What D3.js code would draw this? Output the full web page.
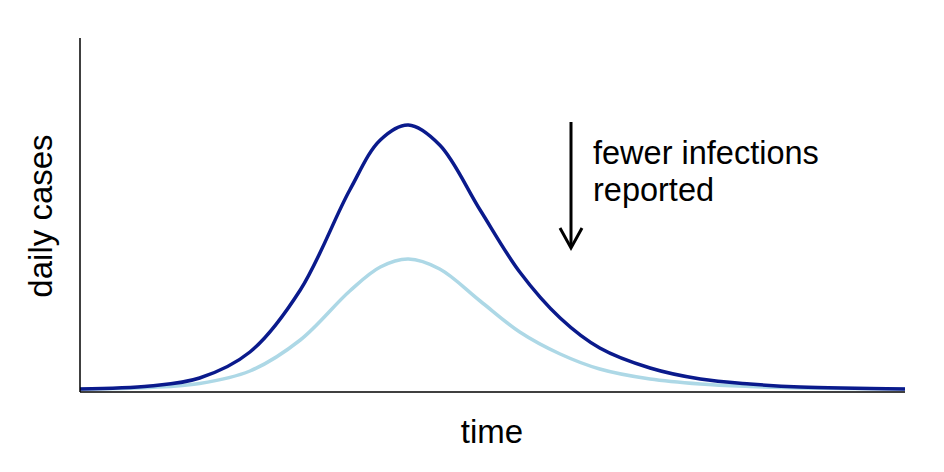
<!DOCTYPE html>
<html><head><meta charset="utf-8">
<script src="https://cdn.jsdelivr.net/npm/d3@7"></script>
<style>body{margin:0;background:#fff}text{font-family:"Liberation Sans",Arial,sans-serif}</style>
</head><body>
<svg id="c" width="944" height="472"></svg>
<script>
var time = [0, 8.5, 14.5, 20.6, 26.7, 32.7, 36.4, 39.8, 43.6, 48.5, 53.3, 58.2, 63, 69.1, 75.2, 81.2, 87.3, 100];
var reported = [0, 3, 11, 37, 99, 199, 249, 264, 244, 179, 117, 71, 41, 21, 10, 5, 2, 0];
var reduced = [0, 1.5, 5.5, 18, 49, 98, 122, 130, 120, 88, 57, 35, 20, 10, 5, 2.5, 1, 0];

var svg = d3.select('#c');
var x = d3.scaleLinear().domain([0, 100]).range([80, 905]);
var y = d3.scaleLinear().domain([0, 354]).range([389, 35]);

function draw(vals, color) {
  svg.append('path')
    .datum(vals)
    .attr('fill', 'none')
    .attr('stroke', color)
    .attr('stroke-width', 3.5)
    .attr('d', d3.line().curve(d3.curveCatmullRom)
      .x(function(d, i) { return x(time[i]); })
      .y(function(d) { return y(d); }));
}
draw(reduced, '#add8e6');
draw(reported, '#0a1a8c');

// axes
svg.append('line').attr('x1', 80).attr('x2', 80).attr('y1', 38).attr('y2', 392).attr('stroke', '#000').attr('stroke-width', 1.5);
svg.append('line').attr('x1', 80).attr('x2', 905).attr('y1', 392).attr('y2', 392).attr('stroke', '#000').attr('stroke-width', 1.5);

svg.append('text').attr('x', 492).attr('y', 443).attr('text-anchor', 'middle').attr('font-size', 33).text('time');
svg.append('text').attr('transform', 'translate(52,216) rotate(-90)').attr('text-anchor', 'middle').attr('font-size', 33).text('daily cases');

// arrow
svg.append('line').attr('x1', 571).attr('x2', 571).attr('y1', 122).attr('y2', 246).attr('stroke', '#000').attr('stroke-width', 3);
svg.append('path').attr('d', 'M560,228 L571,248 L582,228').attr('fill', 'none').attr('stroke', '#000').attr('stroke-width', 3);
svg.append('text').attr('x', 593).attr('y', 164).attr('font-size', 32.5).text('fewer infections');
svg.append('text').attr('x', 593).attr('y', 201).attr('font-size', 32.5).text('reported');
</script>
</body></html>
